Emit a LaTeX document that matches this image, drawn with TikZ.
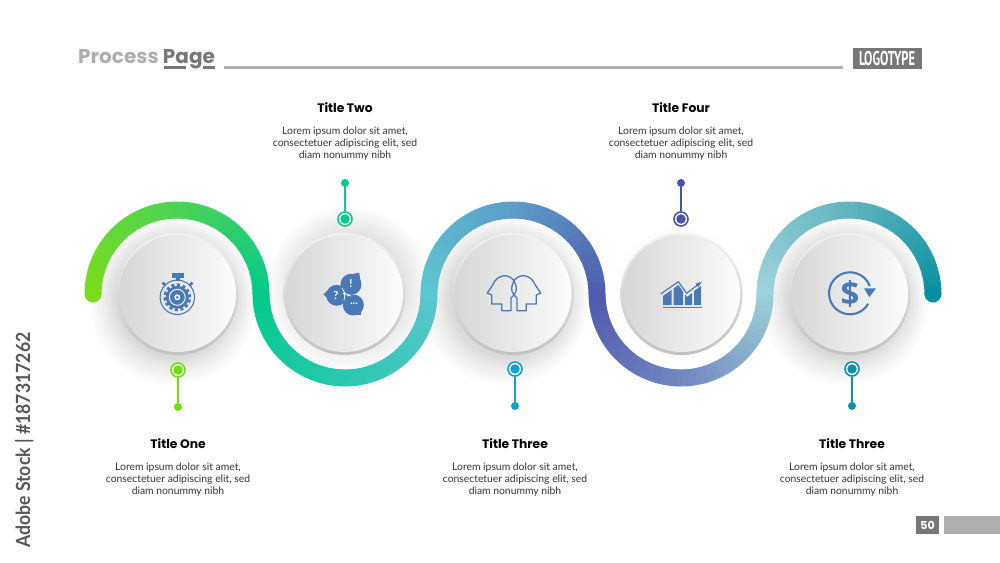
\documentclass[tikz,border=0pt]{standalone}
\usepackage{fontspec}
\setmainfont{Lato}
\newfontfamily\headfont{Poppins}
\newfontfamily\stockfont{Open Sans}
\newfontfamily\logofont{PT Sans}
\usetikzlibrary{positioning}
\definecolor{iconblue}{HTML}{4A7AB5}
\definecolor{barA}{HTML}{AEAEAE}
\definecolor{barB}{HTML}{777777}
\definecolor{pinA}{HTML}{72DC12}
\definecolor{pinB}{HTML}{08C896}
\definecolor{pinC}{HTML}{0FA3C5}
\definecolor{pinD}{HTML}{4A53AB}
\definecolor{pinE}{HTML}{0B93A5}
\definecolor{ribA}{HTML}{7ADC1C}
\definecolor{ribB}{HTML}{4CD355}
\definecolor{ribC}{HTML}{03C98C}
\definecolor{ribD}{HTML}{2BC8B0}
\definecolor{ribE}{HTML}{5CC6D0}
\definecolor{ribF}{HTML}{5C9CC8}
\definecolor{ribG}{HTML}{4F5AAE}
\definecolor{ribH}{HTML}{7288C0}
\definecolor{ribI}{HTML}{9DD3DA}
\definecolor{ribJ}{HTML}{5FB4C0}
\definecolor{ribK}{HTML}{088F9F}
\tikzset{
  rim/.style={circle,inner sep=0pt,minimum size=122pt,shading=axis,shading angle=20,
    top color=white!95!black,bottom color=white!76!black},
  disc/.style={circle,inner sep=0pt,minimum size=117pt,shading=axis,shading angle=-45,
    left color=white!84!black,right color=white!99!black},
  pinring/.style={circle,inner sep=0pt,minimum size=14pt,line width=1.6pt,fill=white},
  pincore/.style={circle,inner sep=0pt,minimum size=9.5pt},
  pinend/.style={circle,inner sep=0pt,minimum size=8pt},
  titletext/.style={font=\headfont\fontsize{12.3}{14}\selectfont\bfseries,text=black},
  bodytext/.style={font=\fontsize{10.35}{11.6}\selectfont,text=black!80,align=center},
  marktext/.style={text=white,inner sep=0pt,font=\fontsize{11}{11}\selectfont\bfseries},
}
\begin{document}
\begin{tikzpicture}[x=1pt,y=-1pt]
  \useasboundingbox (0,0) rectangle (1000,562);
  \fill[white] (0,0) rectangle (1000,562);
  % soft shadows
  \foreach \sx/\sy/\smax/\sop in {173/302/84/.007,505/302/84/.007,845/302/84/.007,349/288/82/.006,681/294/68/.005}{
    \foreach \r in {56,58,...,\smax}
      \fill[black,opacity=\sop] (\sx,\sy) circle[radius=\r pt];
  }
  \foreach \cx in {177,513,849}
    \foreach \r in {62,64,...,76}
      \fill[black,opacity=.005] (\cx,294) circle[radius=\r pt];
  % ribbon
  \foreach \cx/\sgn/\ca/\cb/\cc in {177/1/ribA/ribB/ribC,345/-1/ribC/ribD/ribE,513/1/ribE/ribF/ribG,
      681/-1/ribG/ribH/ribI,849/1/ribI/ribJ/ribK}{
    \foreach \a in {0,4,...,176}{
      \pgfmathsetmacro{\mixval}{\a<90 ? 100-\a/90*100 : 100-(\a-90)/90*100}
      \pgfmathtruncatemacro{\half}{\a<90 ? 1 : 0}
      \ifnum\half=1 \colorlet{segcol}{\ca!\mixval!\cb}\else\colorlet{segcol}{\cb!\mixval!\cc}\fi
      \draw[segcol,line width=17pt]
        ({\cx-84*cos(\a)},{294-\sgn*84*sin(\a)}) -- ({\cx-84*cos(\a+4.5)},{294-\sgn*84*sin(\a+4.5)});
    }
  }
  \fill[ribA] (93,294) circle[radius=8.5pt];
  \fill[ribK] (933,294) circle[radius=8.5pt];
  % discs
  \foreach \name/\cx in {A/177.5,B/344.5,C/513,D/681.5,E/849.5}{
    \node[rim] (rim\name) at (\cx,294) {};
    \node[disc] (disc\name) at (\cx,293.5) {};
  }
  % pins
  \foreach \name/\px/\py/\ey in {A/178/370/407,B/345/219/183,C/515/369/406,D/681/219/183,E/852/369/406}{
    \node[pinend,fill=pin\name] (end\name) at (\px,\ey) {};
    \node[pinring,draw=pin\name] (ring\name) at (\px,\py) {};
    \node[pincore,fill=pin\name] (core\name) at (\px,\py) {};
    \draw[pin\name,line width=1.6pt] (ring\name) -- (end\name);
  }
  % texts
  \node[titletext] (titleA) at (178,443.5) {Title One};
  \node[titletext] (titleB) at (345,107.5) {Title Two};
  \node[titletext] (titleC) at (515,443.5) {Title Three};
  \node[titletext] (titleD) at (681,107.5) {Title Four};
  \node[titletext] (titleE) at (852,443.5) {Title Three};
  \node[bodytext] (bodyA) at (178,479.5) {Lorem ipsum dolor sit amet,\\consectetuer adipiscing elit, sed\\diam nonummy nibh};
  \node[bodytext] (bodyB) at (345,143.5) {Lorem ipsum dolor sit amet,\\consectetuer adipiscing elit, sed\\diam nonummy nibh};
  \node[bodytext] (bodyC) at (515,479.5) {Lorem ipsum dolor sit amet,\\consectetuer adipiscing elit, sed\\diam nonummy nibh};
  \node[bodytext] (bodyD) at (681,143.5) {Lorem ipsum dolor sit amet,\\consectetuer adipiscing elit, sed\\diam nonummy nibh};
  \node[bodytext] (bodyE) at (852,479.5) {Lorem ipsum dolor sit amet,\\consectetuer adipiscing elit, sed\\diam nonummy nibh};
  % header
  \node[anchor=base west,inner sep=0pt,font=\headfont\fontsize{20}{22}\selectfont\bfseries] (heading) at (78,63)
    {\textcolor{barA}{Process} \textcolor{barB}{Page}};
  \draw[barB,line width=2.2pt] (164,67.5) -- (186,67.5);
  \draw[barB,line width=2.2pt] (203,67.5) -- (215,67.5);
  \fill[barA] (224,65.5) rectangle (843,68.5);
  \fill[barB] (853,48) rectangle (921.5,69);
  \node[text=white,inner sep=0pt,font=\logofont\fontsize{20}{22}\selectfont\bfseries] (logo) at (887,58.5)
    {\scalebox{.62}[1]{LOGOTYPE}};
  % page number
  \fill[barB] (916,515.5) rectangle (939,534);
  \fill[barA] (944,515.5) rectangle (1000,534);
  \node[text=white,inner sep=0pt,font=\headfont\fontsize{11}{13}\selectfont\bfseries] (pagenum) at (927.5,525) {50};
  % stock line
  \node[rotate=90,inner sep=0pt,text=black!66,font=\fontsize{19.5}{21}\selectfont\bfseries,anchor=base west] (stockline) at (30,548)
    {\scalebox{.905}[1]{Adobe Stock | \#187317262}};
  % icon one
  \draw[iconblue,line width=1.1pt] (177.3,297.3) circle[radius=17.2pt];
  \fill[iconblue] (171.5,273) rectangle (183.5,277.5);
  \fill[iconblue] (175.5,277) rectangle (179.5,281);
  \draw[iconblue,line width=2.6pt] (165.5,285.5) -- (162.5,282.5);
  \draw[iconblue,line width=2.6pt] (189.5,285.5) -- (192.5,282.5);
  \draw[iconblue,line width=3pt,dash pattern=on 3pt off 2.6pt] (177.3,297.3) circle[radius=12.5pt];
  \fill[iconblue] (177.3,297.3) circle[radius=11.5pt];
  \draw[white,line width=.9pt] (177.3,297.3) circle[radius=8pt];
  \fill[white] (177.3,297.3) circle[radius=3pt];
  \fill[iconblue] (177.3,297.3) circle[radius=1.5pt];
  % icon two
  \fill[iconblue] (351,284.3) circle[radius=10.5pt];
  \fill[iconblue] (336.7,295.3) circle[radius=10.5pt];
  \fill[iconblue] (353.3,305) circle[radius=10.5pt];
  \fill[iconblue] (350,274.5) -- (359.3,272.7) -- (361,287) -- cycle;
  \fill[iconblue] (331,287.5) -- (323.3,294.3) -- (332,303) -- cycle;
  \fill[iconblue] (350,314.5) -- (360.7,315) -- (363,301) -- cycle;
  \draw[white,line width=.7pt] (345,293.5) -- (342,288);
  \draw[white,line width=.7pt] (345,293.5) -- (351,296);
  \draw[white,line width=.7pt] (345,293.5) -- (344,300.5);
  \fill[white] (344.5,293.5) circle[radius=1.6pt];
  \node[marktext] (markQ) at (336,295.5) {?};
  \node[marktext] (markE) at (351,283.5) {!};
  \node[marktext] (markD) at (354,304) {...};
  % icon three
  \draw[iconblue,line width=1.3pt,line join=round] (501.7,310.7) -- (501.7,304) -- (491.7,304) -- (491.7,295) -- (487.3,293)
    -- (492.7,285) .. controls (497,273.5) and (511,272.5) .. (515,283) .. controls (518,289) and (516,294) .. (511,298)
    -- (511,310.7) -- cycle;
  \draw[iconblue,line width=1.3pt,line join=round] (526.3,310.7) -- (526.3,304) -- (536.3,304) -- (536.3,295) -- (540.7,293)
    -- (535.3,285) .. controls (531,273.5) and (517,272.5) .. (513,283) .. controls (510,289) and (512,294) .. (517,298)
    -- (517,310.7) -- cycle;
  % icon four
  \draw[iconblue,line width=1.2pt,->,>=latex] (660.7,294) -- (678.3,281.7) -- (686.7,293.3) -- (702,281.5);
  \fill[iconblue] (663,296) -- (671.5,290) -- (671.5,305) -- (663,305) -- cycle;
  \fill[iconblue] (673.5,288.5) -- (678.3,285) -- (683,291.5) -- (683,305) -- (673.5,305) -- cycle;
  \fill[iconblue] (685,294.5) -- (687,297) -- (692,293) -- (692,305) -- (685,305) -- cycle;
  \fill[iconblue] (694,291) -- (701,286) -- (701,305) -- (694,305) -- cycle;
  \draw[iconblue,line width=1.1pt] (662.5,307.5) -- (701.5,307.5);
  % icon five
  \draw[iconblue,line width=2.1pt] (868.2,303.8) arc[start angle=-30,end angle=-340,radius=21pt];
  \fill[iconblue] (864,288.3) -- (876,288.3) -- (869.3,297.3) -- cycle;
  \node[text=iconblue,inner sep=0pt,font=\stockfont\fontsize{33}{33}\selectfont\bfseries] (dollar) at (850,293.5) {\$};
\end{tikzpicture}
\end{document}
